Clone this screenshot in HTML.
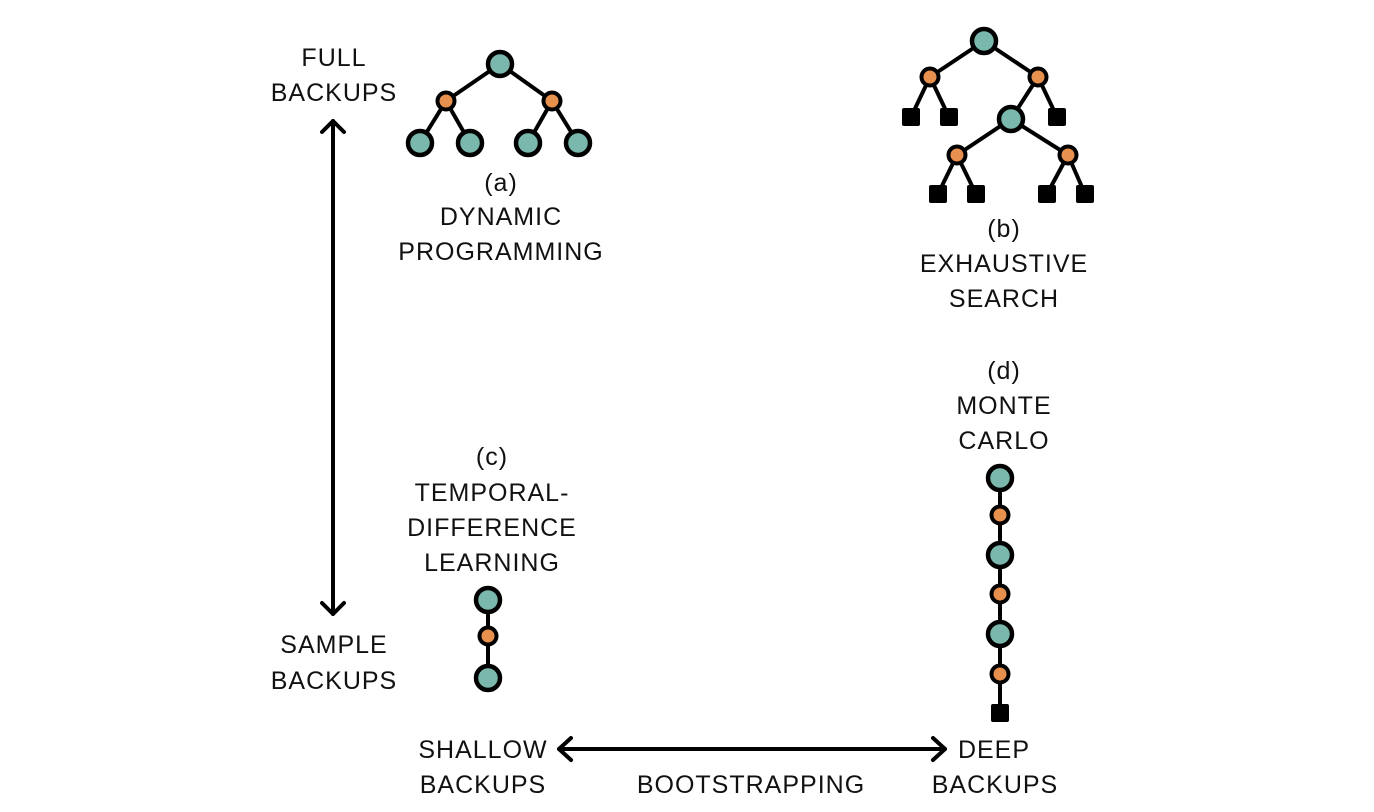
<!DOCTYPE html>
<html><head><style>html,body{margin:0;padding:0;background:#fff;}svg{display:block}</style></head>
<body>
<svg width="1374" height="812" viewBox="0 0 1374 812" xmlns="http://www.w3.org/2000/svg">
<defs>
<style>
text{font-family:"Liberation Sans",sans-serif;font-size:25px;letter-spacing:1px;fill:#111;text-anchor:middle}
.t{fill:#7ab8ad;stroke:#000;stroke-width:4.5}
.o{fill:#e8904e;stroke:#000;stroke-width:4}
.l{stroke:#000;stroke-width:4;fill:none}
</style>
</defs>
<!-- (a) -->
<g class="l"><line x1="500" y1="64" x2="446" y2="101"/><line x1="500" y1="64" x2="552" y2="101"/>
<line x1="446" y1="101" x2="420" y2="143"/><line x1="446" y1="101" x2="470" y2="143"/>
<line x1="552" y1="101" x2="528" y2="143"/><line x1="552" y1="101" x2="578" y2="143"/></g>
<circle class="t" cx="500" cy="64" r="12"/>
<circle class="o" cx="446" cy="101" r="8.5"/><circle class="o" cx="552" cy="101" r="8.5"/>
<circle class="t" cx="420" cy="143" r="12"/><circle class="t" cx="470" cy="143" r="12"/>
<circle class="t" cx="528" cy="143" r="12"/><circle class="t" cx="578" cy="143" r="12"/>
<!-- (b) -->
<g class="l"><line x1="984" y1="41" x2="930" y2="77"/><line x1="984" y1="41" x2="1038" y2="77"/>
<line x1="930" y1="77" x2="911" y2="117"/><line x1="930" y1="77" x2="949" y2="117"/>
<line x1="1038" y1="77" x2="1057" y2="117"/><line x1="1038" y1="77" x2="1011" y2="119"/>
<line x1="1011" y1="119" x2="957" y2="155"/><line x1="1011" y1="119" x2="1068" y2="155"/>
<line x1="957" y1="155" x2="938" y2="194"/><line x1="957" y1="155" x2="976" y2="194"/>
<line x1="1068" y1="155" x2="1047" y2="194"/><line x1="1068" y1="155" x2="1085" y2="194"/></g>
<circle class="t" cx="984" cy="41" r="12"/>
<circle class="o" cx="930" cy="77" r="8.5"/><circle class="o" cx="1038" cy="77" r="8.5"/>
<circle class="t" cx="1011" cy="119" r="12"/>
<circle class="o" cx="957" cy="155" r="8.5"/><circle class="o" cx="1068" cy="155" r="8.5"/>
<g fill="#000">
<rect x="902" y="108" width="18" height="18" rx="2"/><rect x="940" y="108" width="18" height="18" rx="2"/><rect x="1048" y="108" width="18" height="18" rx="2"/>
<rect x="929" y="185" width="18" height="18" rx="2"/><rect x="967" y="185" width="18" height="18" rx="2"/>
<rect x="1038" y="185" width="18" height="18" rx="2"/><rect x="1076" y="185" width="18" height="18" rx="2"/>
</g>
<!-- (c) -->
<line class="l" x1="488" y1="600" x2="488" y2="678"/>
<circle class="t" cx="488" cy="600" r="12"/><circle class="o" cx="488" cy="636" r="8.5"/><circle class="t" cx="488" cy="678" r="12"/>
<!-- (d) -->
<line class="l" x1="1000" y1="478" x2="1000" y2="713"/>
<circle class="t" cx="1000" cy="478" r="12"/><circle class="o" cx="1000" cy="515" r="8.5"/>
<circle class="t" cx="1000" cy="555" r="12"/><circle class="o" cx="1000" cy="594" r="8.5"/>
<circle class="t" cx="1000" cy="634" r="12"/><circle class="o" cx="1000" cy="674" r="8.5"/>
<rect x="991" y="704" width="18" height="18" rx="2" fill="#000"/>
<!-- arrows -->
<g class="l" stroke-linecap="round" stroke-linejoin="round">
<line x1="333" y1="121" x2="333" y2="614"/>
<polyline points="322,132 333,121 344,132"/><polyline points="322,603 333,614 344,603"/>
<line x1="559" y1="749" x2="945" y2="749"/>
<polyline points="571,738 559,749 571,760"/><polyline points="933,738 945,749 933,760"/>
</g>
<!-- text -->
<text x="334" y="66">FULL</text><text x="334" y="101">BACKUPS</text>
<text x="501" y="191">(a)</text><text x="501" y="225">DYNAMIC</text><text x="501" y="260">PROGRAMMING</text>
<text x="1004" y="237">(b)</text><text x="1004" y="272">EXHAUSTIVE</text><text x="1004" y="307">SEARCH</text>
<text x="1004" y="379">(d)</text><text x="1004" y="414">MONTE</text><text x="1004" y="449">CARLO</text>
<text x="492" y="465">(c)</text><text x="492" y="501">TEMPORAL-</text><text x="492" y="536">DIFFERENCE</text><text x="492" y="571">LEARNING</text>
<text x="334" y="653">SAMPLE</text><text x="334" y="689">BACKUPS</text>
<text x="483" y="758">SHALLOW</text><text x="483" y="793">BACKUPS</text>
<text x="994" y="758">DEEP</text><text x="995" y="793">BACKUPS</text>
<text x="751" y="793">BOOTSTRAPPING</text>
</svg>
</body></html>
